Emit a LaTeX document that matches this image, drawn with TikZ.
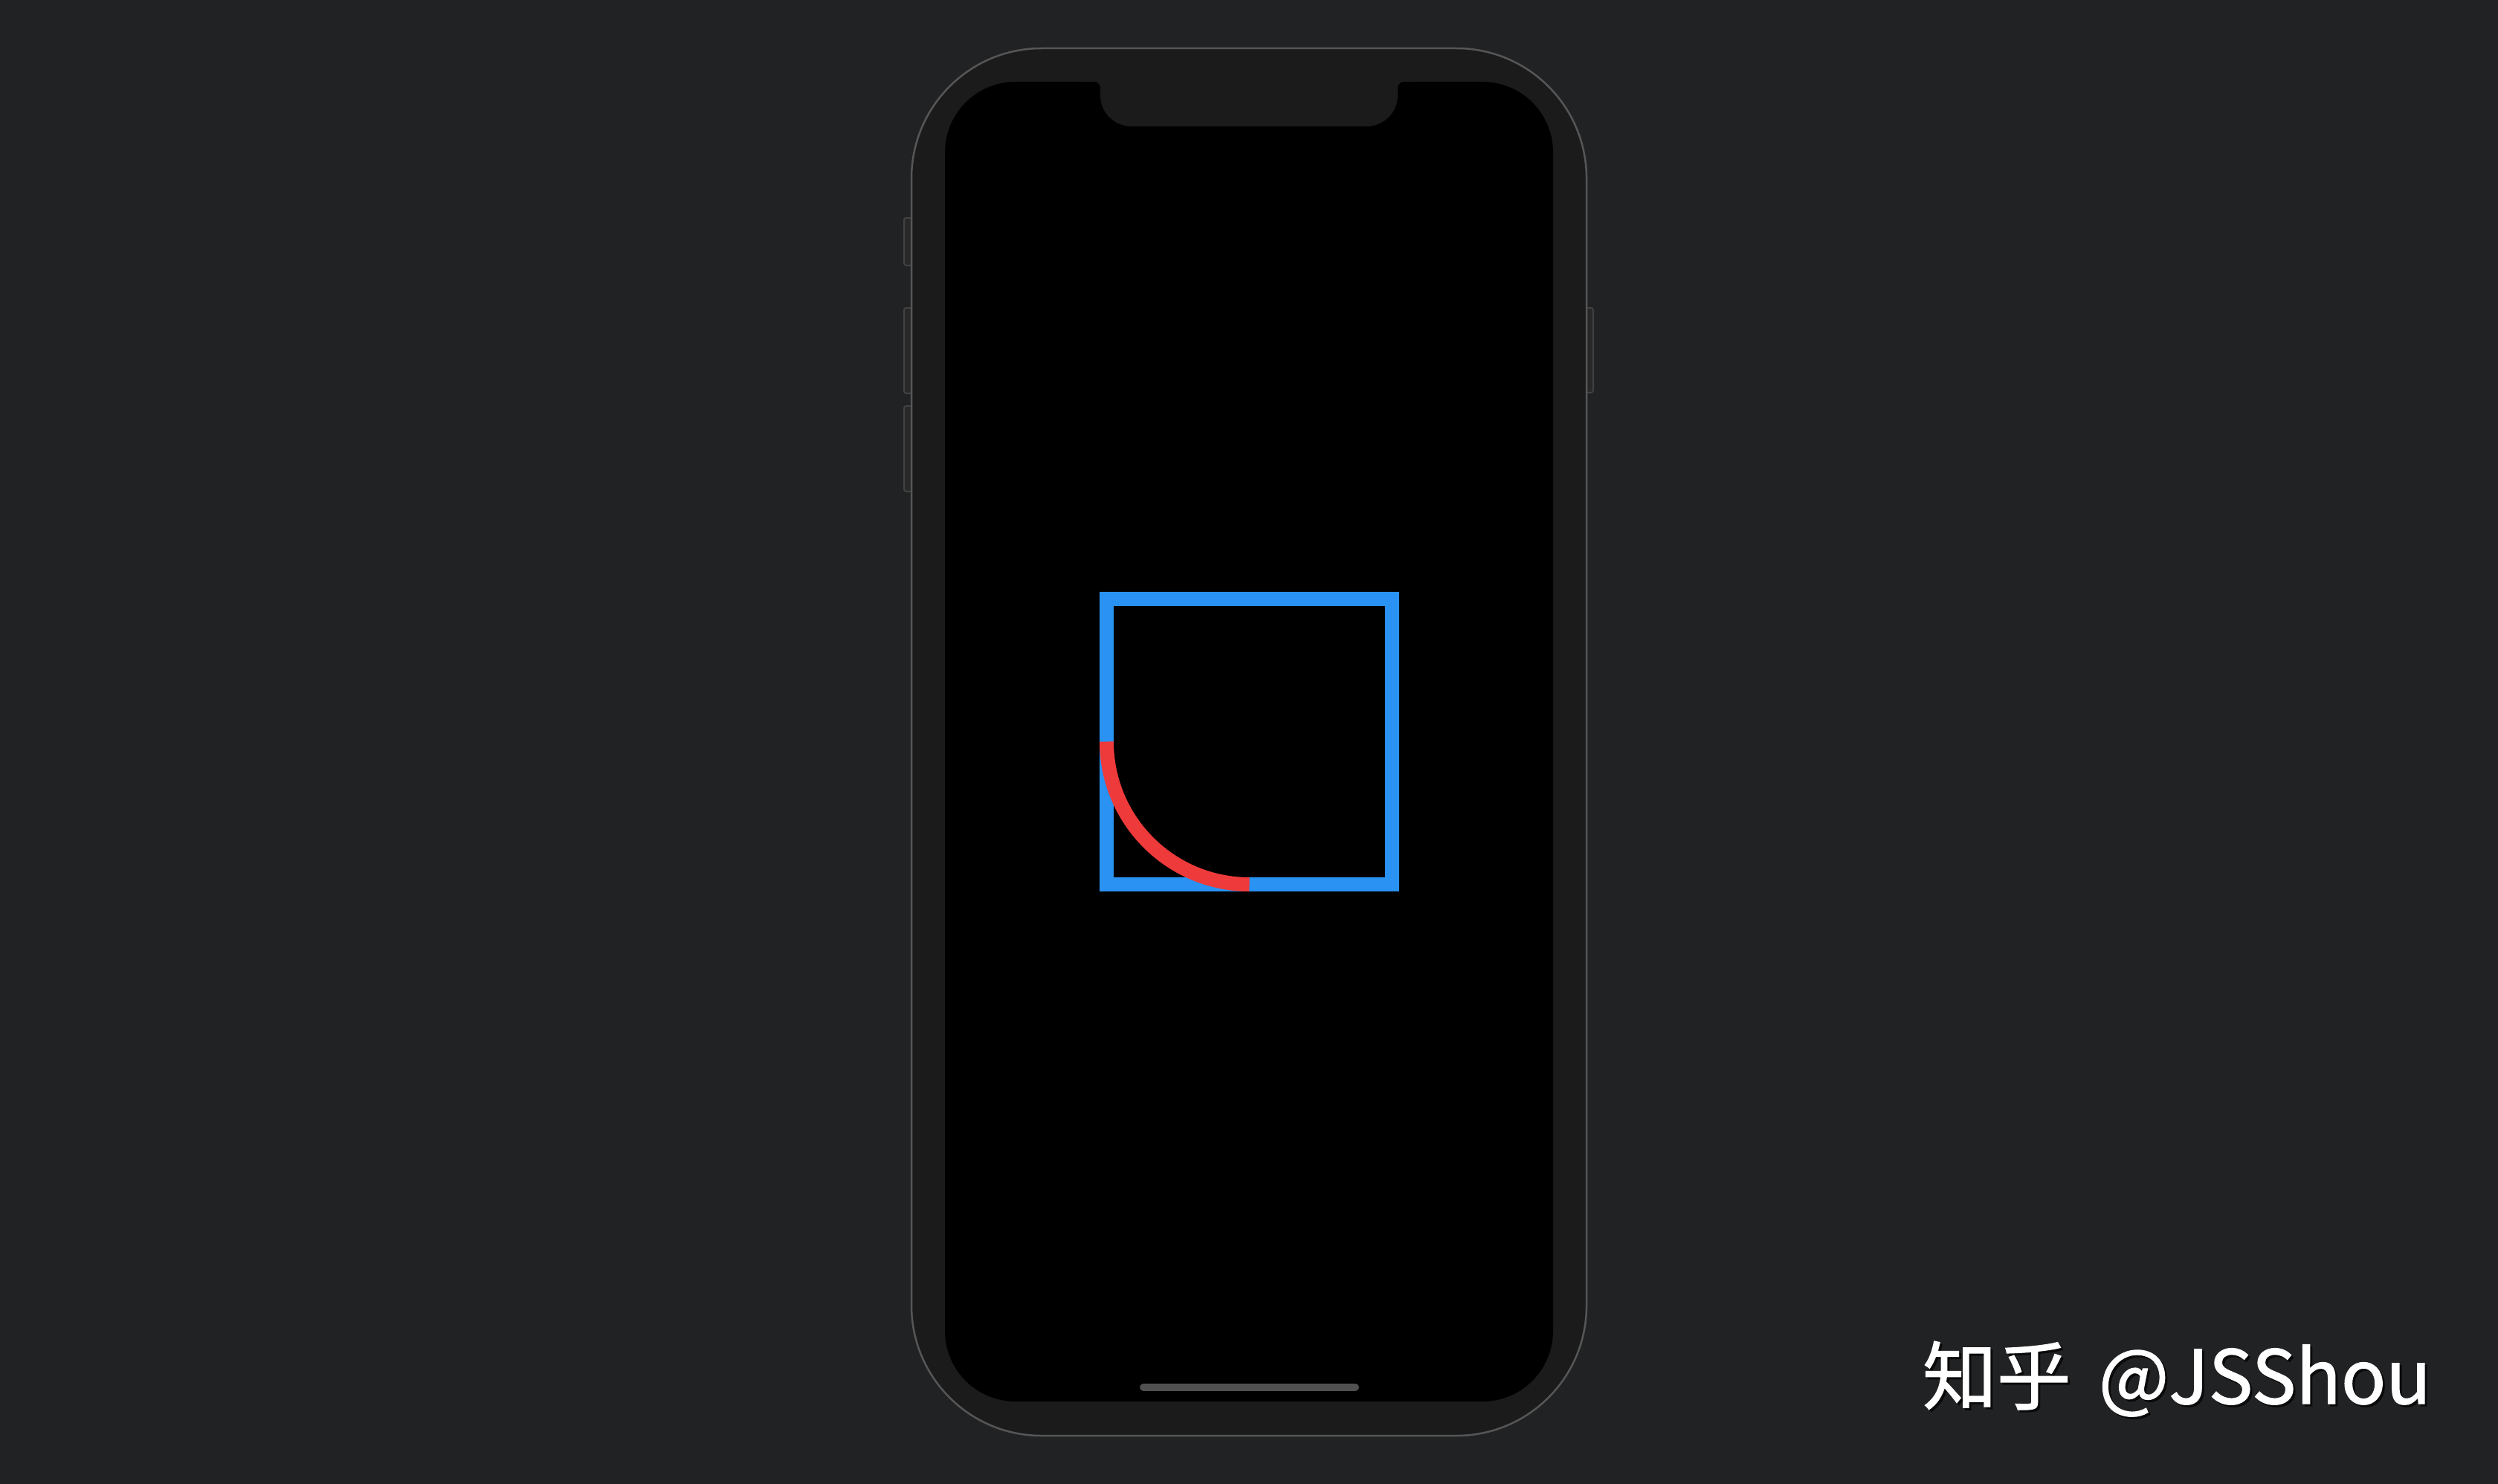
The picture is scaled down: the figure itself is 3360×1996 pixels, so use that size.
\documentclass[tikz,border=0pt]{standalone}
\usepackage{fontspec}
\usepackage{tikz}
\newfontfamily\cjk[FakeBold=1.3]{Noto Sans CJK SC}
\definecolor{bgdark}{RGB}{33,34,36}
\definecolor{bodydark}{RGB}{27,27,27}
\definecolor{rimgray}{RGB}{86,86,86}
\definecolor{btnfill}{RGB}{40,40,40}
\definecolor{btnrim}{RGB}{66,66,66}
\definecolor{bargray}{RGB}{80,80,80}
\definecolor{boxblue}{RGB}{41,146,242}
\definecolor{arcred}{RGB}{238,58,58}
\tikzstyle{phone} = [fill=bodydark, draw=rimgray, line width=0.25mm,
    rounded corners=17.5mm]
\tikzstyle{screen} = [fill=black, rounded corners=9.5mm]
\tikzstyle{sidebtn} = [fill=btnfill, draw=btnrim, line width=0.2mm,
    rounded corners=0.3mm]
\tikzstyle{homebar} = [draw=bargray, line width=1mm, line cap=round]
\tikzstyle{bluebox} = [draw=boxblue, line width=1.9mm]
\tikzstyle{redarc} = [draw=arcred, line width=1.9mm]
\tikzstyle{watermark} = [anchor=base, inner sep=0pt, text=white,
    font=\cjk\fontsize{28.4}{30}\selectfont]

\begin{document}
\begin{tikzpicture}[x=0.1mm, y=-0.1mm]
  % Background
  \fill[bgdark] (0,0) rectangle (3360,1996);
  % Side buttons
  \draw[sidebtn] (1216,293) rectangle (1232,357);
  \draw[sidebtn] (1216,414) rectangle (1232,529);
  \draw[sidebtn] (1216,546) rectangle (1232,661);
  \draw[sidebtn] (2128,414) rectangle (2143,528);
  % Body, screen and notch
  \draw[phone] (1226,65) rectangle (2134,1931);
  \fill[screen] (1271,110) rectangle (2089,1885);
  \fill[bodydark] (1455,80) -- (1455,110) [rounded corners=0.8mm]
    -- (1480,110) [rounded corners=4.2mm] -- (1480,170) -- (1880,170)
    [rounded corners=0.8mm] -- (1880,110) [sharp corners] -- (1905,110)
    -- (1905,80) -- cycle;
  \draw[homebar] (1538,1866) -- (1823,1866);
  % Square and arc
  \draw[bluebox] (1488.5,805.5) rectangle (1872.5,1189.5);
  \draw[redarc] (1488.5,997.5) .. controls (1488.5,1103.5) and (1574.5,1189.5)
    .. (1680.5,1189.5);
  % Watermark
  \node[watermark, text=black, opacity=0.6] (markshadow) at (2931,1891)
    {知乎\hspace{0.15em} @JSShou};
  \node[watermark] (mark) at (2928,1888) {知乎\hspace{0.15em} @JSShou};
\end{tikzpicture}
\end{document}
